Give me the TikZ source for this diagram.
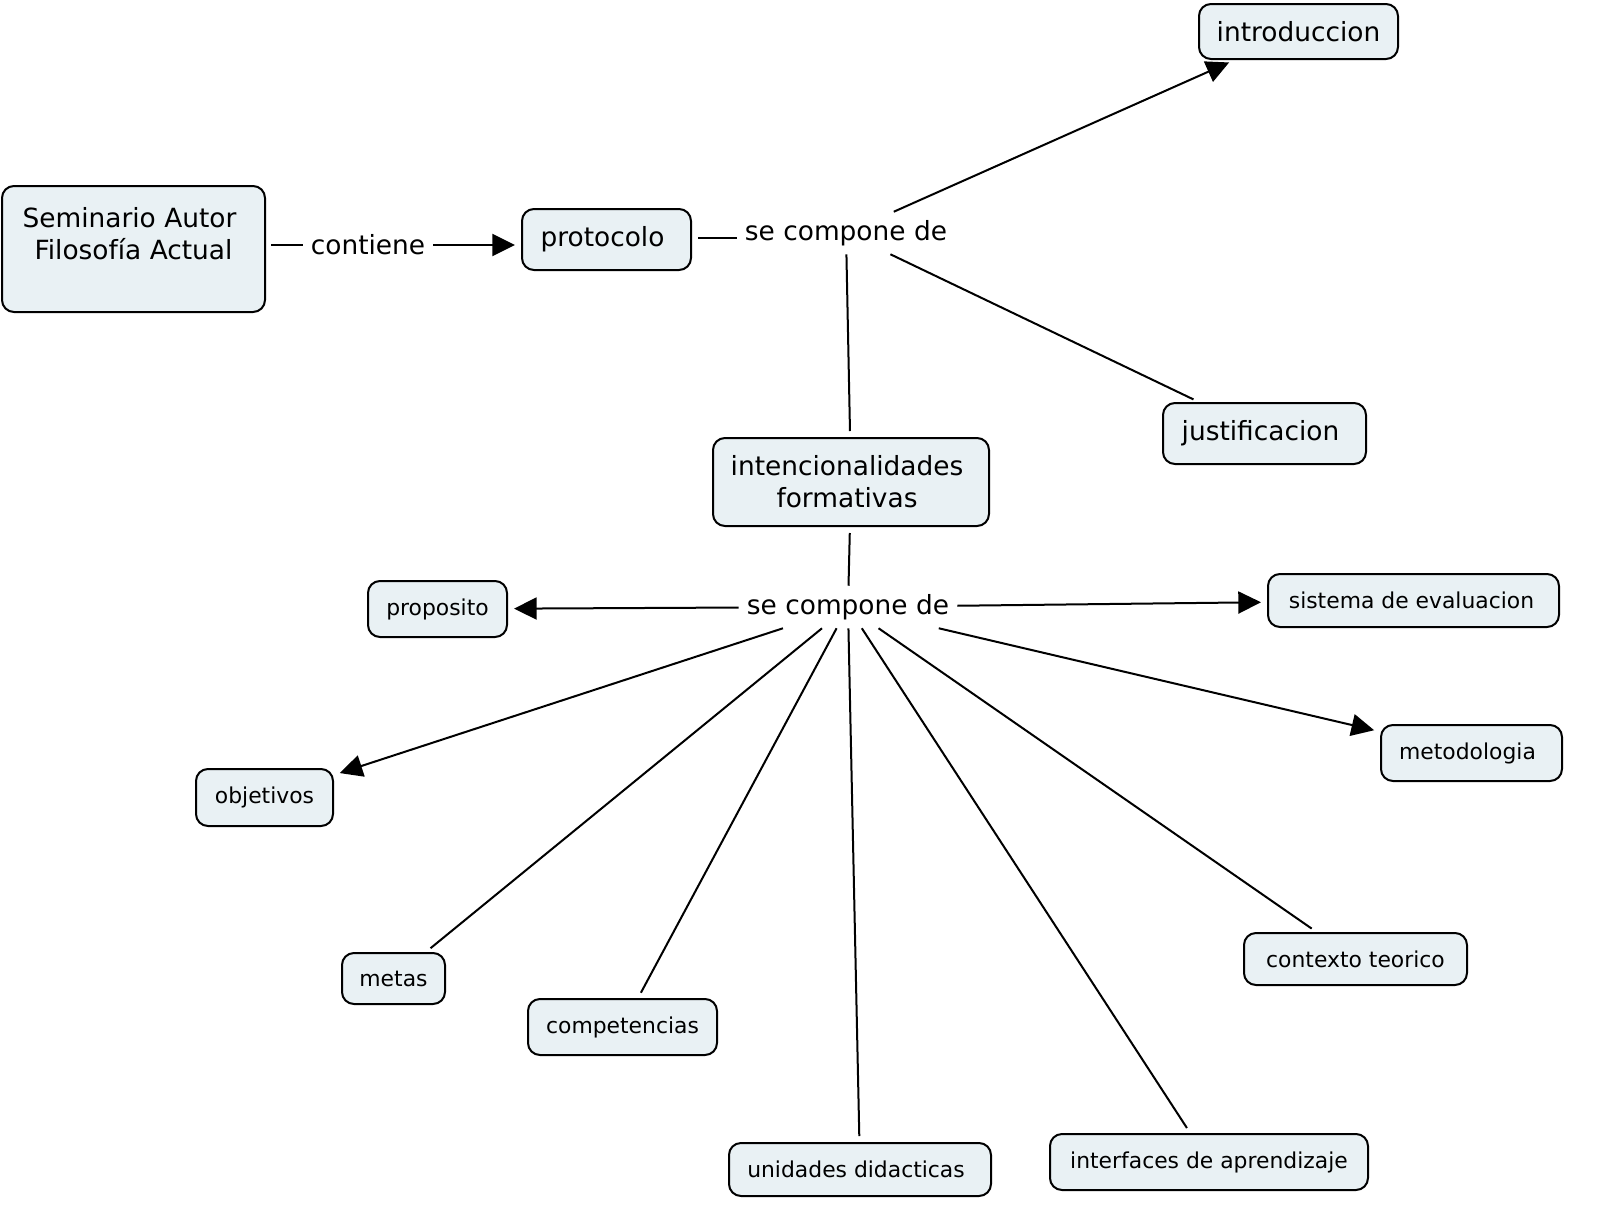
\documentclass[tikz,border=0pt]{standalone}
\usepackage{fontspec}
\setmainfont{DejaVu Sans}
\usetikzlibrary{arrows.meta,calc}
\definecolor{boxfill}{RGB}{233,241,244}
\newcommand{\tsp}{\hspace*{6pt}}
\begin{document}
\begin{tikzpicture}[x=0.75pt,y=-0.75pt,
 box/.style={draw=black, line width=1.5pt, rounded corners=9pt, fill=boxfill, inner sep=0pt, align=center},
 big/.style={font=\fontsize{19.8pt}{24pt}\selectfont},
 small/.style={font=\fontsize{16.4pt}{20pt}\selectfont},
 lbl/.style={big, inner xsep=6pt, inner ysep=0pt, minimum height=31.5pt},
 link/.style={line width=1.5pt},
 conn/.style={link, shorten >=4.5pt},
 arr/.style={conn, -{Triangle[length=17pt,width=16.5pt]}}
]
\useasboundingbox (0,0) rectangle (1600,1225);

% boxes
\node[box, big, minimum width=197.25pt, minimum height=94.5pt] (sem) at (133.5,249) {Seminario Autor\tsp\\Filosofía Actual\tsp\\~};
\node[box, big, minimum width=126.75pt, minimum height=45.75pt] (proto) at (606.5,239.5) {protocolo\tsp};
\node[box, big, minimum width=149.25pt, minimum height=41.25pt] (intro) at (1298.5,31.5) {introduccion};
\node[box, big, minimum width=152.25pt, minimum height=45.75pt] (just) at (1264.5,433.5) {justificacion\tsp};
\node[box, big, minimum width=207pt, minimum height=66pt] (inten) at (851,482) {intencionalidades\tsp\\formativas\tsp};
\node[box, small, minimum width=104.25pt, minimum height=42pt] (propos) at (437.5,609) {proposito};
\node[box, small, minimum width=218.25pt, minimum height=39.75pt] (sist) at (1413.5,600.5) {sistema de evaluacion\hspace*{3pt}};
\node[box, small, minimum width=102.75pt, minimum height=42.75pt] (obj) at (264.5,797.5) {objetivos};
\node[box, small, minimum width=135.75pt, minimum height=42pt] (metod) at (1471.5,753) {metodologia\tsp};
\node[box, small, minimum width=77.25pt, minimum height=38.25pt] (metas) at (393.5,978.5) {metas};
\node[box, small, minimum width=141.75pt, minimum height=42pt] (comp) at (622.5,1027) {competencias};
\node[box, small, minimum width=167.25pt, minimum height=39pt] (ctx) at (1355.5,959) {contexto teorico};
\node[box, small, minimum width=196.5pt, minimum height=39.75pt] (unid) at (860,1169.5) {unidades didacticas\tsp};
\node[box, small, minimum width=238.5pt, minimum height=42pt] (interf) at (1209,1162) {interfaces de aprendizaje};

% linking phrases
\node[lbl] (cont) at (368,245) {contiene};
\node[lbl] (sc1) at (846,233) {se compone de};
\node[lbl] (sc2) at (848,607) {se compone de};

% connectors
\draw[link, shorten <=3.75pt] (sem.east |- cont.west) -- (cont.west);
\draw[arr] (cont.east) -- (cont.east -| proto.west);
\draw[link, shorten <=4.5pt] (proto.east |- 0,238) -- (sc1.west |- 0,238);
\draw[arr] (sc1) -- (intro);
\draw[conn] (sc1) -- (just);
\draw[conn] (sc1) -- (inten);
\draw[link, shorten <=4.5pt] (inten) -- (sc2);
\draw[arr] (sc2) -- (propos);
\draw[arr] (sc2) -- (sist);
\draw[arr] (sc2) -- (obj);
\draw[arr] (sc2) -- (metod);
\draw[conn] (sc2) -- (metas);
\draw[conn] (sc2) -- (comp);
\draw[conn] (sc2) -- (unid);
\draw[conn] (sc2) -- (interf);
\draw[conn] (sc2) -- (ctx);
\end{tikzpicture}
\end{document}
